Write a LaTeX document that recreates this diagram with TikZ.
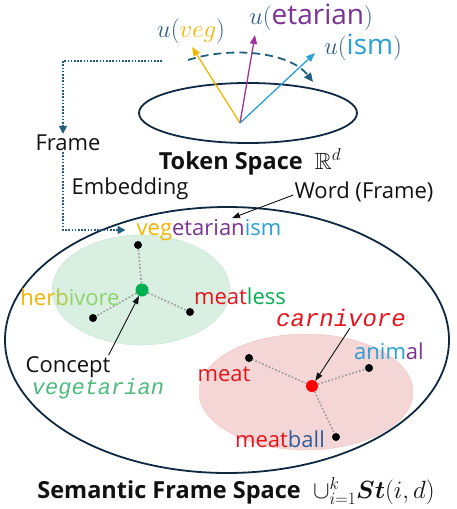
\documentclass[tikz,border=0pt]{standalone}
\usepackage{fontspec}
\usepackage{amsmath}
\usepackage{amssymb}
\usepackage{bm}
\setsansfont{Open Sans}
\setmonofont{Liberation Mono}
\usetikzlibrary{positioning, arrows.meta, calc}
\definecolor{ink}{HTML}{111111}
\definecolor{navy}{HTML}{0E2841}
\definecolor{flowc}{HTML}{215F7E}
\definecolor{uink}{HTML}{2F5F8F}
\definecolor{cveg}{HTML}{F5B400}
\definecolor{ceta}{HTML}{7B3294}
\definecolor{cetaarr}{HTML}{A0309A}
\definecolor{cism}{HTML}{2A9FD6}
\definecolor{cred}{HTML}{E8141C}
\definecolor{cgreen}{HTML}{00B050}
\definecolor{clgreen}{HTML}{8ED36B}
\definecolor{cball}{HTML}{2E5E9C}
\definecolor{gfill}{HTML}{D8EFE2}
\definecolor{gline}{HTML}{C6E4D2}
\definecolor{rfill}{HTML}{F5D6D6}
\definecolor{rline}{HTML}{EDC4C4}
\definecolor{cmono}{HTML}{4DBB7C}
\definecolor{dotgray}{HTML}{9A9A9A}
\tikzset{
  lbl/.style={font=\sffamily\fontsize{22}{25}\selectfont, text=ink, inner sep=1pt},
  ttl/.style={font=\sffamily\bfseries\fontsize{23.5}{26}\selectfont, text=ink, inner sep=1pt},
  ulbl/.style={font=\sffamily\fontsize{28}{30}\selectfont, text=uink, inner sep=1pt},
  mono/.style={font=\ttfamily\itshape\fontsize{22}{24}\selectfont, inner sep=1pt},
  space/.style={draw=navy, line width=1.8pt},
  bdot/.style={circle, fill=black, inner sep=0pt, minimum size=8pt},
  cdot/.style={circle, inner sep=0pt, minimum size=13pt},
  vec/.style={-{Triangle[length=9pt, width=7pt]}, line width=1.3pt},
  arcd/.style={-{Triangle[length=9pt, width=8pt]}, line width=1.8pt, color=flowc, dash pattern=on 8pt off 5pt},
  dotl/.style={-{Triangle[length=8pt, width=8pt]}, line width=1.6pt, color=flowc, dash pattern=on 1.6pt off 1.6pt},
  ptr/.style={-{Triangle[length=8pt, width=6pt]}, line width=0.9pt, color=ink},
  link/.style={line width=1.6pt, color=dotgray, dotted},
}
\begin{document}
\begin{tikzpicture}[x=1pt, y=-1pt]
  \useasboundingbox (0,0) rectangle (457,509);
  \draw[space] (248,113) ellipse [x radius=109, y radius=30];
  \coordinate (o) at (240,123);
  \coordinate (tveg) at (192,47);
  \coordinate (teta) at (255,35);
  \coordinate (tism) at (315,53);
  \draw[vec, cveg] (o) -- (tveg);
  \draw[vec, cetaarr] (o) -- (teta);
  \draw[vec, cism] (o) -- (tism);
  \node[ulbl] (uveg) at (191,31) {$u($\textcolor{cveg}{$veg$}$)$};
  \node[ulbl] (ueta) at (311,17) {$u($\textcolor{ceta}{etarian}$)$};
  \node[ulbl] (uism) at (363,47) {$u($\textcolor{cism}{ism}$)$};
  \coordinate (as) at (188,60);
  \coordinate (ae) at (313,82);
  \draw[arcd] (as) .. controls (232,46) and (290,52) .. (ae);
  \node[ttl] (tok) at (250,162) {Token Space\ \ $\mathbb{R}^d$};

  \node[lbl] (frame) at (68,143) {Frame};
  \node[lbl] (emb) at (130,189) {Embedding};
  \coordinate (ds) at (162,61);
  \draw[dotl] (ds) -| ([xshift=-5pt]frame.north);

  \draw[space] (227,340) ellipse [x radius=222, y radius=133];
  \draw[draw=gline, fill=gfill] (141,290) ellipse [x radius=89, y radius=55];
  \draw[draw=rline, fill=rfill] (306,392) ellipse [x radius=107, y radius=58];

  \node[lbl] (word) at (209,230) {\textcolor{cveg}{veg}\textcolor{ceta}{etarian}\textcolor{cism}{ism}};
  \node[lbl] (wf) at (364,192) {Word (Frame)};
  \draw[dotl] ([xshift=-5pt]frame.south) |- ([xshift=-10pt]word.west);
  \draw[ptr] ([yshift=-3pt]wf.west) -- ([xshift=23pt]word.north);

  \node[cdot, fill=cgreen] (gdot) at (142,290) {};
  \node[bdot] (g1) at (138,245) {};
  \node[bdot] (g2) at (93,318) {};
  \node[bdot] (g3) at (190,312) {};
  \foreach \d in {g1,g2,g3} \draw[link] (gdot) -- (\d);
  \node[lbl] (herb) at (70,297) {\textcolor{cveg}{her}\textcolor{clgreen!60!cveg}{b}\textcolor{clgreen}{ivore}};
  \node[lbl] (mless) at (240,296) {\textcolor{cred}{meat}\textcolor{cgreen}{less}};
  \node[lbl] (concept) at (68,367) {Concept};
  \node[mono, text=cmono] (veg) at (98,389) {vegetarian};
  \draw[ptr] ([xshift=-3pt]concept.north east) -- (gdot);

  \node[cdot, fill=red, minimum size=12pt] (rdot) at (312,386) {};
  \node[bdot] (r1) at (249,358) {};
  \node[bdot] (r2) at (369,368) {};
  \node[bdot] (r3) at (336,437) {};
  \foreach \d in {r1,r2,r3} \draw[link] (rdot) -- (\d);
  \node[mono, text=cred, font=\ttfamily\itshape\fontsize{24}{26}\selectfont] (carn) at (341,318) {carnivore};
  \draw[ptr] ([xshift=9pt]carn.south) -- (rdot);
  \node[lbl] (anim) at (389,351) {\textcolor{cism}{anim}\textcolor{ceta}{al}};
  \node[lbl, text=cred] (meat) at (224,374) {meat};
  \node[lbl] (mball) at (280,439) {\textcolor{cred}{meat}\textcolor{cball}{ball}};

  \node[ttl] (sfs) at (236,491) {Semantic Frame Space\ \ $\cup_{i=1}^{k}\bm{St}(i,d)$};
\end{tikzpicture}
\end{document}
